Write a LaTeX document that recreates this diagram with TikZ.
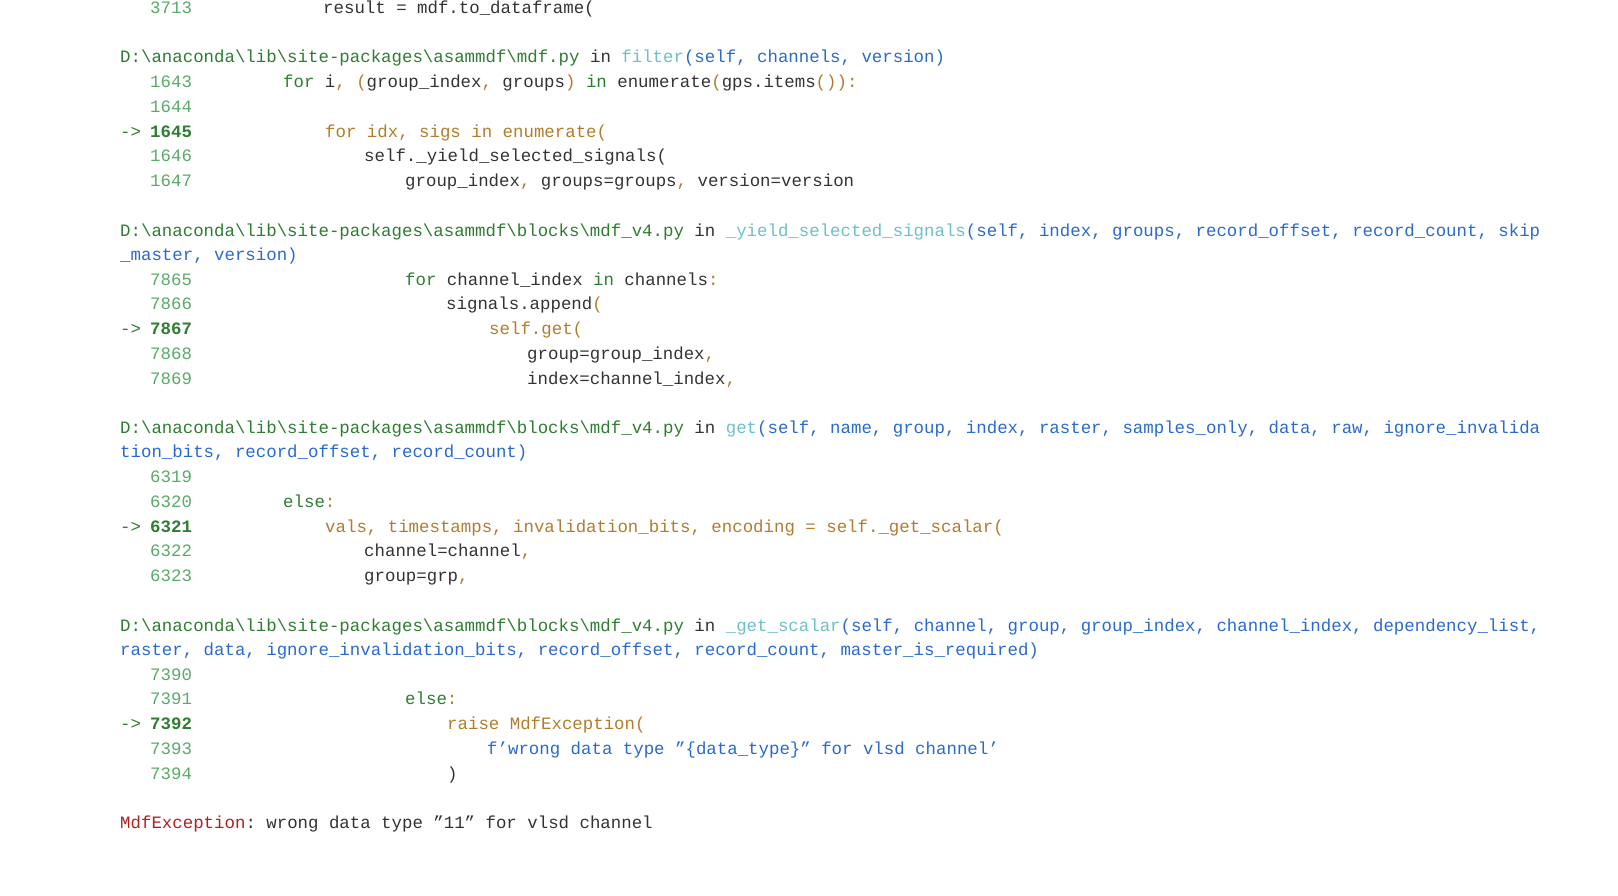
\documentclass[tikz,border=0pt]{standalone}
\usepackage{fontspec}
\setmonofont{Liberation Mono}
\definecolor{pathg}{HTML}{2E7D32}
\definecolor{numg}{HTML}{5AAA6A}
\definecolor{brn}{HTML}{B07D2E}
\definecolor{cyn}{HTML}{6CC0C8}
\definecolor{blu}{HTML}{2A6ACB}
\definecolor{txt}{HTML}{333333}
\definecolor{exc}{HTML}{B02020}
\newcommand\cP[1]{\textcolor{pathg}{#1}}
\newcommand\cK[1]{\textcolor{pathg}{#1}}
\newcommand\cB[1]{\textcolor{brn}{#1}}
\newcommand\cC[1]{\textcolor{cyn}{#1}}
\newcommand\cU[1]{\textcolor{blu}{#1}}
\newcommand\bs{\textbackslash}
\begin{document}
\begin{tikzpicture}[x=1pt,y=-1pt,
  every node/.style={anchor=base west,inner sep=0pt,font=\ttfamily\fontsize{17.4}{20}\selectfont,text=txt},
  num/.style={text=numg},
  cur/.style={text=pathg,font=\ttfamily\bfseries\fontsize{17.4}{20}\selectfont},
  arr/.style={text=pathg}]
\useasboundingbox (0,0) rectangle (1618,895);
% top
\node[num] (n0) at (150,13) {3713};
\node (c0) at (323,13) {result = mdf.to\_dataframe(};
% block 1
\node (h1) at (120,62) {\cP{D:\bs anaconda\bs lib\bs site-packages\bs asammdf\bs mdf.py} in \cC{filter}\cU{(self, channels, version)}};
\node[num] (n1a) at (150,87) {1643};
\node (c1a) at (283,87) {\cK{for} i\cB{,} \cB{(}group\_index\cB{,} groups\cB{)} \cK{in} enumerate\cB{(}gps.items\cB{())}\cB{:}};
\node[num] (n1b) at (150,112) {1644};
\node[arr] (a1) at (120,137) {->};
\node[cur] (n1c) at (150,137) {1645};
\node[text=brn] (c1c) at (325,137) {for idx, sigs in enumerate(};
\node[num] (n1d) at (150,161) {1646};
\node (c1d) at (364,161) {self.\_yield\_selected\_signals(};
\node[num] (n1e) at (150,186) {1647};
\node (c1e) at (405,186) {group\_index\cB{,} groups=groups\cB{,} version=version};
% block 2
\node (h2) at (120,236) {\cP{D:\bs anaconda\bs lib\bs site-packages\bs asammdf\bs blocks\bs mdf\_v4.py} in \cC{\_yield\_selected\_signals}\cU{(self, index, groups, record\_offset, record\_count, skip}};
\node[text=blu] (h2b) at (120,260) {\_master, version)};
\node[num] (n2a) at (150,285) {7865};
\node (c2a) at (405,285) {\cK{for} channel\_index \cK{in} channels\cB{:}};
\node[num] (n2b) at (150,309) {7866};
\node (c2b) at (446,309) {signals.append\cB{(}};
\node[arr] (a2) at (120,334) {->};
\node[cur] (n2c) at (150,334) {7867};
\node[text=brn] (c2c) at (489,334) {self.get(};
\node[num] (n2d) at (150,359) {7868};
\node (c2d) at (527,359) {group=group\_index\cB{,}};
\node[num] (n2e) at (150,384) {7869};
\node (c2e) at (527,384) {index=channel\_index\cB{,}};
% block 3
\node (h3) at (120,433) {\cP{D:\bs anaconda\bs lib\bs site-packages\bs asammdf\bs blocks\bs mdf\_v4.py} in \cC{get}\cU{(self, name, group, index, raster, samples\_only, data, raw, ignore\_invalida}};
\node[text=blu] (h3b) at (120,457) {tion\_bits, record\_offset, record\_count)};
\node[num] (n3a) at (150,482) {6319};
\node[num] (n3b) at (150,507) {6320};
\node (c3b) at (283,507) {\cK{else}\cB{:}};
\node[arr] (a3) at (120,532) {->};
\node[cur] (n3c) at (150,532) {6321};
\node[text=brn] (c3c) at (325,532) {vals, timestamps, invalidation\_bits, encoding = self.\_get\_scalar(};
\node[num] (n3d) at (150,556) {6322};
\node (c3d) at (364,556) {channel=channel\cB{,}};
\node[num] (n3e) at (150,581) {6323};
\node (c3e) at (364,581) {group=grp\cB{,}};
% block 4
\node (h4) at (120,631) {\cP{D:\bs anaconda\bs lib\bs site-packages\bs asammdf\bs blocks\bs mdf\_v4.py} in \cC{\_get\_scalar}\cU{(self, channel, group, group\_index, channel\_index, dependency\_list,}};
\node[text=blu] (h4b) at (120,655) {raster, data, ignore\_invalidation\_bits, record\_offset, record\_count, master\_is\_required)};
\node[num] (n4a) at (150,680) {7390};
\node[num] (n4b) at (150,704) {7391};
\node (c4b) at (405,704) {\cK{else}\cB{:}};
\node[arr] (a4) at (120,729) {->};
\node[cur] (n4c) at (150,729) {7392};
\node[text=brn] (c4c) at (447,729) {raise MdfException(};
\node[num] (n4d) at (150,754) {7393};
\node[text=blu] (c4d) at (487,754) {f’wrong data type ”\{data\_type\}” for vlsd channel’};
\node[num] (n4e) at (150,779) {7394};
\node (c4e) at (447,779) {)};
% exception
\node (ex) at (120,828) {\textcolor{exc}{MdfException}: wrong data type ”11” for vlsd channel};
\end{tikzpicture}
\end{document}
